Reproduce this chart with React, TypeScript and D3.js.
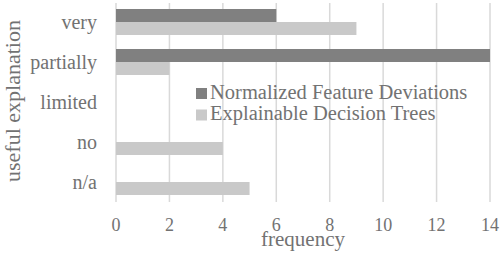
import React from "react";
import * as d3 from "d3";

const categories = ["very", "partially", "limited", "no", "n/a"];
const seriesNames = ["Normalized Feature Deviations", "Explainable Decision Trees"];
const nfdValues = [6, 14, 0, 0, 0];
const edtValues = [9, 2, 0, 4, 5];
const xTicks = [0, 2, 4, 6, 8, 10, 12, 14];
const colors = ["#808080", "#c9c9c9"];

export default function App() {
  const W = 500, H = 254;
  const x = d3.scaleLinear().domain([0, 14]).range([116, 490]);
  const y = d3.scaleBand().domain(categories).range([2, 202]).paddingInner(0.35).paddingOuter(0.175);
  const sub = d3.scaleBand().domain(seriesNames).range([0, y.bandwidth()]);
  const series = [nfdValues, edtValues];
  const font = "'Liberation Serif', 'Times New Roman', serif";
  const txt = "#727272";
  return (
    <svg width={W} height={H} style={{ position: "absolute", left: 0, top: 0 }} fontFamily={font}>
      <rect width={W} height={H} fill="#fff" />
      {xTicks.map((t) => (
        <line key={t} x1={x(t)} x2={x(t)} y1={3} y2={202} stroke="#d9d9d9" strokeWidth={1.5} />
      ))}
      {categories.map((c, i) =>
        series.map((s, j) =>
          s[i] > 0 ? (
            <rect key={c + j} x={x(0)} y={(y(c) as number) + (sub(seriesNames[j]) as number)} width={x(s[i]) - x(0)} height={sub.bandwidth()} fill={colors[j]} />
          ) : null
        )
      )}
      {categories.map((c) => (
        <text key={c} x={97} y={(y(c) as number) + y.bandwidth() / 2} dy="0.33em" textAnchor="end" fontSize={20} fill={txt}>{c}</text>
      ))}
      {xTicks.map((t) => (
        <text key={t} x={x(t)} y={231} textAnchor="middle" fontSize={18} fill={txt}>{t}</text>
      ))}
      <text x={303} y={246} textAnchor="middle" fontSize={21} fill={txt}>frequency</text>
      <text transform={`translate(19.5,101) rotate(-90)`} textAnchor="middle" fontSize={22} fill={txt}>useful explanation</text>
      {seriesNames.map((n, j) => (
        <g key={n} transform={`translate(196,${88 + j * 21.5})`}>
          <rect width={11} height={11} fill={colors[j]} />
          <text x={14} y={10.5} fontSize={20.5} fill={txt}>{n}</text>
        </g>
      ))}
    </svg>
  );
}
